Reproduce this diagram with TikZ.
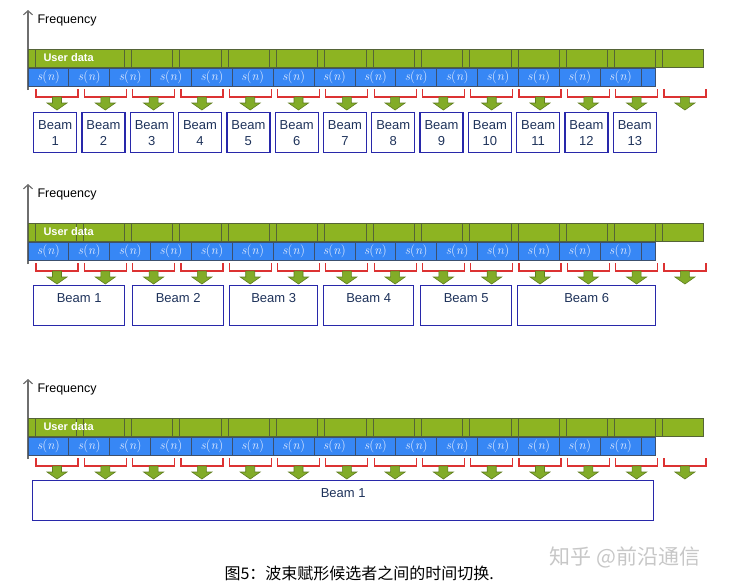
\documentclass[tikz,border=0pt]{standalone}
\usepackage{fontspec}
\setmainfont{Liberation Sans}
\newfontfamily\cjk{Noto Sans CJK SC}
\newfontfamily\lmr{Latin Modern Roman}
\usetikzlibrary{arrows.meta}
\definecolor{usergreen}{RGB}{141,180,34}
\definecolor{greenline}{RGB}{85,100,55}
\definecolor{sblue}{RGB}{55,135,245}
\definecolor{blueline}{RGB}{60,80,110}
\definecolor{stext}{RGB}{225,235,255}
\definecolor{brackred}{RGB}{220,50,50}
\definecolor{arrowgreen}{RGB}{130,172,40}
\definecolor{arrowline}{RGB}{95,125,30}
\definecolor{beamline}{RGB}{40,40,170}
\definecolor{beamtext}{RGB}{30,50,90}
\definecolor{axisgray}{RGB}{110,110,110}

\begin{document}
\begin{tikzpicture}[x=1pt,y=-1pt,
  axis/.style={draw=axisgray, line width=1.2pt, -{Straight Barb[length=4pt,width=9pt]}},
  greenbar/.style={fill=usergreen, draw=greenline, line width=1pt},
  slotline/.style={draw=greenline, line width=1pt},
  sblock/.style={fill=sblue, draw=blueline, line width=0.8pt, minimum width=40.87pt,
    minimum height=18pt, inner sep=0pt, text=stext, font=\lmr\fontsize{13}{13}\selectfont},
  bracket/.style={draw=brackred, line width=1.2pt},
  garrow/.style={fill=arrowgreen, draw=arrowline, line width=0.6pt},
  beambox/.style={draw=beamline, line width=1.3pt, inner sep=0pt, text=beamtext, align=center,
    font=\fontsize{13}{16}\selectfont, anchor=north west, minimum height=40pt}]
\useasboundingbox (0,0) rectangle (752,587);

% axis, user data, s(n) blocks and brackets: same for all three panels
\foreach \p/\y/\slots in {a/49/{0,2,3,...,13}, b/223/{0,...,13}, c/418/{0,...,13}}{
\begin{scope}[shift={(0,\y)}]
\coordinate (foot\p) at (28,41);
\coordinate (tip\p) at (28,-39);
\draw[axis] (foot\p) -- (tip\p);
\node[anchor=west, font=\fontsize{12.5}{12.5}\selectfont] (freq\p) at (34,-29) {Frequency};
\draw[greenbar] (28,0) rectangle (703,18);
\foreach \k in \slots
  \draw[slotline] ({28+48.3*\k},0) -- ++(0,18) ({35+48.3*\k},0) -- ++(0,18);
\node[anchor=west, text=white, font=\bfseries\fontsize{11}{11}\selectfont] (user\p) at (40,9) {User data};
\foreach \k in {0,...,14}
  \node[sblock] (s\p\k) at ({48.4+40.87*\k},28) {\textit{s}(\textit{n})};
\node[sblock, minimum width=14pt] (s\p15) at (648,28) {};
\foreach \k in {0,...,13}{
  \draw[bracket] ({36+48.3*\k},40) -- ++(0,8) -- ++(42,0) -- ++(0,-8);
  \coordinate (m\p\k) at ({57+48.3*\k},48);
  \draw[garrow] (m\p\k) ++(-4.5,0) -- ++(9,0) -- ++(0,6) -- ++(5.5,0) -- ++(-10,7)
    -- ++(-10,-7) -- ++(5.5,0) -- cycle;
}
\end{scope}}

% panel a: one beam per slot
\begin{scope}[shift={(0,49)}]
\foreach \k in {1,...,13}
  \node[beambox, minimum width=43pt] (beama\k) at ({33+48.3*(\k-1)},63) {Beam\\\k};
\end{scope}

% panel b: six beams
\begin{scope}[shift={(0,223)}]
\foreach \k/\xl/\xr in {1/33/124, 2/132/223, 3/229/317, 4/323/413, 5/420/511, 6/517/655}
  \node[beambox, minimum width={\xr-\xl}] (beamb\k) at (\xl,62) {Beam \k\\\phantom{0}};
\end{scope}

% panel c: one beam
\begin{scope}[shift={(0,418)}]
\node[beambox, minimum width=621pt] (beamc1) at (32,62) {Beam 1\\\phantom{0}};
\end{scope}

\node[anchor=west, font=\cjk\fontsize{16}{16}\selectfont] (caption) at (221,573)
  {图5：波束赋形候选者之间的时间切换.};
\node[anchor=west, text=black!22, font=\cjk\fontsize{21}{21}\selectfont] (mark) at (546,557)
  {知乎 @前沿通信};
\end{tikzpicture}
\end{document}
